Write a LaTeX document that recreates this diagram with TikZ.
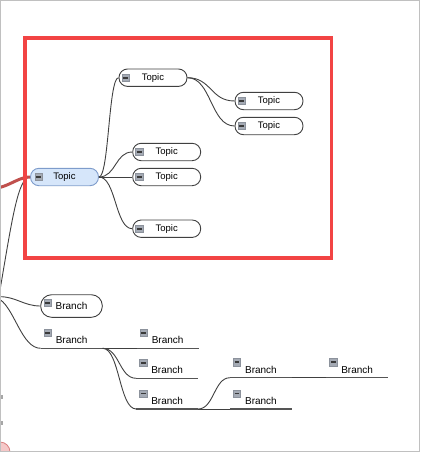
\documentclass[tikz,border=0pt]{standalone}
\usepackage{fontspec}
\setmainfont{Liberation Sans}
\usetikzlibrary{calc}
\definecolor{lineC}{HTML}{404040}
\definecolor{ulC}{HTML}{555555}
\definecolor{cfill}{HTML}{D6E6FA}
\definecolor{cborder}{HTML}{7E9CCB}
\definecolor{iconF}{HTML}{A4AAB4}
\definecolor{iconB}{HTML}{8C929C}
\definecolor{iconBar}{HTML}{3A3A3A}
\definecolor{redBox}{HTML}{F24444}
\definecolor{redLink}{HTML}{C0504D}
\definecolor{frameC}{HTML}{C0C0C0}
\definecolor{pinkF}{HTML}{F5C8C8}
\definecolor{pinkB}{HTML}{D98080}
\begin{document}
\begin{tikzpicture}[x=1pt,y=-1pt,
  topic/.style={draw=lineC, line width=0.9pt, rounded corners=8.5pt, minimum width=68pt,
    minimum height=17.4pt, inner sep=0pt, fill=white, font=\fontsize{9.5}{11}\selectfont},
  ctopic/.style={topic, fill=cfill, draw=cborder},
  pill/.style={draw=lineC, line width=0.9pt, rounded corners=11pt, minimum width=61.6pt,
    minimum height=22.6pt, inner sep=0pt, fill=white, font=\fontsize{10}{12}\selectfont},
  mmicon/.style={draw=iconB, fill=iconF, minimum size=7.3pt, inner sep=0pt, line width=0.6pt,
    path picture={\draw[line width=1.6pt, iconBar]
      ([xshift=-2.4pt]path picture bounding box.center) -- ([xshift=2.4pt]path picture bounding box.center);}},
  conn/.style={draw=lineC, line width=0.9pt},
  branch/.style={minimum width=61.5pt, inner sep=0pt, text height=20pt, text depth=4.4pt,
    anchor=south west, font=\fontsize{10}{12}\selectfont},
  uline/.style={draw=ulC, line width=1.3pt}]
\useasboundingbox (0,0) rectangle (420,452);

% ---- topic nodes
\node[ctopic] (c) at (64.5,177) {Topic};
\node[topic] (t1) at (153,77.7) {Topic};
\node[topic] (t11) at (269,101) {Topic};
\node[topic] (t12) at (269,126) {Topic};
\node[topic] (t2) at (166.7,152) {Topic};
\node[topic] (t3) at (166.7,177) {Topic};
\node[topic] (t4) at (166.7,228.7) {Topic};

% ---- topic connectors
\draw[conn] (c.east) .. controls +(10,0) and +(-10,0) .. (t1.west);
\draw[conn] (c.east) .. controls +(17,0) and +(-17,0) .. (t2.west);
\draw[conn] (c.east) -- (t3.west);
\draw[conn] (c.east) .. controls +(17,0) and +(-17,0) .. (t4.west);
\draw[conn] (t1.east) .. controls +(24,0) and +(-24,0) .. (t11.west);
\draw[conn] (t1.east) .. controls +(24,0) and +(-24,0) .. (t12.west);

% ---- icons of topics
\foreach \n/\d in {c/8.5,t1/7,t11/7,t12/7,t2/7,t3/7,t4/7}{
  \node[mmicon] (\n i) at ($(\n.west)+(\d,0)$) {};
}

% ---- branch nodes
\node[pill] (b1) at (71.5,306) {Branch};
\node[mmicon] (b1i) at ($(b1.west)+(7.6,-3)$) {};
\node[branch] (b2) at (40.7,348.3) {Branch};
\node[branch] (b2a) at (136.7,348.3) {Branch};
\node[branch] (b2b) at (136.2,378.3) {Branch};
\node[branch] (b2c) at (136.2,409) {Branch};
\node[branch] (b2ca) at (230,377.7) {Branch};
\node[branch] (b2caa) at (326.2,377.7) {Branch};
\node[branch] (b2cb) at (230,409) {Branch};
\foreach \n in {b2,b2a,b2b,b2c,b2ca,b2caa,b2cb}{
  \draw[uline] (\n.south west) -- (\n.south east);
  \node[mmicon] (\n i) at ($(\n.south west)+(7,-15.5)$) {};
}

% ---- branch connectors
\draw[conn] (b2.south east) -- (b2a.south west);
\draw[conn] (b2.south east) .. controls +(17,0) and +(-17,0) .. (b2b.south west);
\draw[conn] (b2.south east) .. controls +(17,0) and +(-17,0) .. (b2c.south west);
\draw[conn] (b2c.south east) .. controls +(16,0) and +(-16,0) .. (b2ca.south west);
\draw[conn] (b2c.south east) -- (b2cb.south west);
\draw[conn] (b2ca.south east) -- (b2caa.south west);

% ---- links coming from outside the view
\coordinate (e1) at (0,290);
\coordinate (e2) at (0,296.7);
\coordinate (e3) at (0,299.5);
\coordinate (e4) at (0,187.5);
\draw[conn] (e1) .. controls (12,220) and (18,177) .. (c.west);
\draw[conn] (e2) .. controls (16,296.7) and (24,306) .. (b1.west);
\draw[conn] (e3) .. controls (15,310) and (22,348.3) .. (b2.south west);
\draw[redLink, line width=3pt] (e4) .. controls (12,184) and (20,177) .. (c.west);

% ---- selection rectangle
\draw[redBox, line width=3.6pt] (25,38) rectangle (331.5,258);

% ---- partly visible node at bottom left
\begin{scope}
  \clip (1,0) rectangle (420,451);
  \draw[fill=pinkF, draw=pinkB, line width=0.8pt] (0,452) circle (10);
\end{scope}

% ---- edge marks and frame
\fill[gray!70] (0.5,395) rectangle (2.5,399);
\fill[gray!70] (0.5,421) rectangle (2.5,425);
\draw[frameC, line width=1.2pt] (0.6,0.5) rectangle (419.5,451.4);
\end{tikzpicture}
\end{document}
